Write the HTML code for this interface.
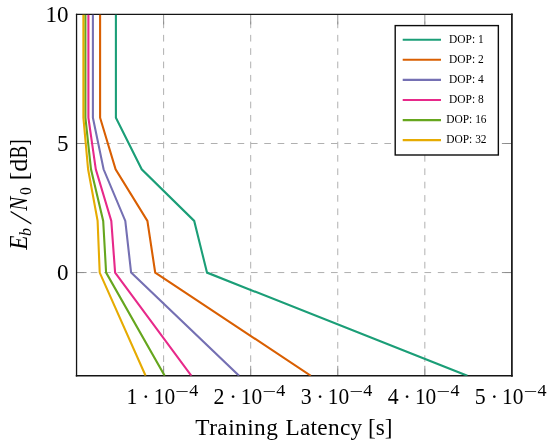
<!DOCTYPE html>
<html lang="en"><head><meta charset="utf-8"><title>Training Latency</title>
<style>html,body{margin:0;padding:0;background:#fff}svg{display:block}text{font-family:"Liberation Serif","DejaVu Serif",serif;fill:#000}.t{font-size:23px}.u{font-size:23.3px}.s{font-size:16.2px}.lg{font-size:13.0px}.i{font-style:italic}</style></head><body>
<svg width="550" height="448" viewBox="0 0 550 448">
<rect x="0" y="0" width="550" height="448" fill="#fff"/>
<g stroke="#b0b0b0" stroke-width="1.0" stroke-dasharray="6.675 6.675" fill="none">
<line x1="163.62" y1="375.8" x2="163.62" y2="14.45" stroke-dashoffset="-0.5"/>
<line x1="250.69" y1="375.8" x2="250.69" y2="14.45" stroke-dashoffset="-0.5"/>
<line x1="337.76" y1="375.8" x2="337.76" y2="14.45" stroke-dashoffset="-0.5"/>
<line x1="424.83" y1="375.8" x2="424.83" y2="14.45" stroke-dashoffset="-0.5"/>
<line x1="76.55" y1="143.50" x2="511.9" y2="143.50" stroke-dashoffset="-0.8"/>
<line x1="76.55" y1="272.56" x2="511.9" y2="272.56" stroke-dashoffset="-0.8"/>
</g>
<g stroke="#888888" stroke-width="0.9" fill="none">
<line x1="163.62" y1="375.8" x2="163.62" y2="365.8"/>
<line x1="163.62" y1="14.45" x2="163.62" y2="24.45"/>
<line x1="250.69" y1="375.8" x2="250.69" y2="365.8"/>
<line x1="250.69" y1="14.45" x2="250.69" y2="24.45"/>
<line x1="337.76" y1="375.8" x2="337.76" y2="365.8"/>
<line x1="337.76" y1="14.45" x2="337.76" y2="24.45"/>
<line x1="424.83" y1="375.8" x2="424.83" y2="365.8"/>
<line x1="424.83" y1="14.45" x2="424.83" y2="24.45"/>
<line x1="76.55" y1="143.50" x2="86.55" y2="143.50"/>
<line x1="511.9" y1="143.50" x2="501.9" y2="143.50"/>
<line x1="76.55" y1="272.56" x2="86.55" y2="272.56"/>
<line x1="511.9" y1="272.56" x2="501.9" y2="272.56"/>
</g>
<g stroke="#141414" stroke-linecap="square" fill="none">
<line x1="76.55" y1="14.45" x2="76.55" y2="375.8" stroke-width="1.3"/>
<line x1="76.55" y1="14.45" x2="511.9" y2="14.45" stroke-width="1.3"/>
<line x1="511.9" y1="14.45" x2="511.9" y2="375.8" stroke-width="1.7"/>
<line x1="76.55" y1="375.8" x2="511.9" y2="375.8" stroke-width="1.6"/>
</g>
<clipPath id="c"><rect x="76.55" y="14.45" width="435.35" height="361.35"/></clipPath>
<g fill="none" stroke-width="2.1" stroke-linejoin="miter" stroke-linecap="butt" clip-path="url(#c)">
<polyline stroke="#1b9e77" points="115.9,14.4 115.9,117.7 141.7,169.3 194.2,220.9 207.0,272.6 467.4,375.8"/>
<polyline stroke="#d95f02" points="100.1,14.4 100.1,117.7 115.6,169.3 147.4,220.9 155.2,272.6 310.9,375.8"/>
<polyline stroke="#7570b3" points="92.9,14.4 92.9,117.7 103.6,169.3 125.3,220.9 131.1,272.6 239.1,375.8"/>
<polyline stroke="#e7298a" points="88.4,14.4 88.4,117.7 95.8,169.3 111.3,220.9 115.1,272.6 191.4,375.8"/>
<polyline stroke="#66a61e" points="85.4,14.4 85.4,117.7 91.0,169.3 103.2,220.9 106.1,272.6 164.7,375.8"/>
<polyline stroke="#e6ab02" points="83.4,14.4 83.4,117.7 88.1,169.3 97.6,220.9 99.7,272.6 145.6,375.8"/>
</g>
<rect x="395.2" y="25.6" width="103.15000000000003" height="129.4" fill="#fff" stroke="#0c0c0c" stroke-width="1.4"/>
<line x1="402.7" y1="39.8" x2="441" y2="39.8" stroke="#1b9e77" stroke-width="2.1"/>
<text class="lg" transform="translate(466.4,42.75) scale(0.88,1)" x="0" y="0" text-anchor="middle">DOP: 1</text>
<line x1="402.7" y1="59.8" x2="441" y2="59.8" stroke="#d95f02" stroke-width="2.1"/>
<text class="lg" transform="translate(466.4,62.83) scale(0.88,1)" x="0" y="0" text-anchor="middle">DOP: 2</text>
<line x1="402.7" y1="79.9" x2="441" y2="79.9" stroke="#7570b3" stroke-width="2.1"/>
<text class="lg" transform="translate(466.4,82.91) scale(0.88,1)" x="0" y="0" text-anchor="middle">DOP: 4</text>
<line x1="402.7" y1="100.0" x2="441" y2="100.0" stroke="#e7298a" stroke-width="2.1"/>
<text class="lg" transform="translate(466.4,102.99) scale(0.88,1)" x="0" y="0" text-anchor="middle">DOP: 8</text>
<line x1="402.7" y1="120.1" x2="441" y2="120.1" stroke="#66a61e" stroke-width="2.1"/>
<text class="lg" transform="translate(466.4,123.07) scale(0.88,1)" x="0" y="0" text-anchor="middle">DOP: 16</text>
<line x1="402.7" y1="140.1" x2="441" y2="140.1" stroke="#e6ab02" stroke-width="2.1"/>
<text class="lg" transform="translate(466.4,143.15) scale(0.88,1)" x="0" y="0" text-anchor="middle">DOP: 32</text>
<text class="t" x="68.6" y="21.9" text-anchor="end">10</text>
<text class="t" x="68.6" y="151.0" text-anchor="end">5</text>
<text class="t" x="68.6" y="280.1" text-anchor="end">0</text>
<text class="t" y="404.3"><tspan x="126.52" textLength="10.9" lengthAdjust="spacingAndGlyphs">1</tspan><tspan x="136.37"> · </tspan><tspan x="153.72" textLength="21.4" lengthAdjust="spacingAndGlyphs">10</tspan><tspan class="s" x="175.12" y="397.10" textLength="13.7" lengthAdjust="spacingAndGlyphs">−</tspan><tspan class="s" x="189.22" y="396.00" textLength="9.05" lengthAdjust="spacingAndGlyphs">4</tspan></text>
<text class="t" y="404.3"><tspan x="213.59" textLength="10.9" lengthAdjust="spacingAndGlyphs">2</tspan><tspan x="223.44"> · </tspan><tspan x="240.79" textLength="21.4" lengthAdjust="spacingAndGlyphs">10</tspan><tspan class="s" x="262.19" y="397.10" textLength="13.7" lengthAdjust="spacingAndGlyphs">−</tspan><tspan class="s" x="276.29" y="396.00" textLength="9.05" lengthAdjust="spacingAndGlyphs">4</tspan></text>
<text class="t" y="404.3"><tspan x="300.66" textLength="10.9" lengthAdjust="spacingAndGlyphs">3</tspan><tspan x="310.51"> · </tspan><tspan x="327.86" textLength="21.4" lengthAdjust="spacingAndGlyphs">10</tspan><tspan class="s" x="349.26" y="397.10" textLength="13.7" lengthAdjust="spacingAndGlyphs">−</tspan><tspan class="s" x="363.36" y="396.00" textLength="9.05" lengthAdjust="spacingAndGlyphs">4</tspan></text>
<text class="t" y="404.3"><tspan x="387.73" textLength="10.9" lengthAdjust="spacingAndGlyphs">4</tspan><tspan x="397.58"> · </tspan><tspan x="414.93" textLength="21.4" lengthAdjust="spacingAndGlyphs">10</tspan><tspan class="s" x="436.33" y="397.10" textLength="13.7" lengthAdjust="spacingAndGlyphs">−</tspan><tspan class="s" x="450.43" y="396.00" textLength="9.05" lengthAdjust="spacingAndGlyphs">4</tspan></text>
<text class="t" y="404.3"><tspan x="474.80" textLength="10.9" lengthAdjust="spacingAndGlyphs">5</tspan><tspan x="484.65"> · </tspan><tspan x="502.00" textLength="21.4" lengthAdjust="spacingAndGlyphs">10</tspan><tspan class="s" x="523.40" y="397.10" textLength="13.7" lengthAdjust="spacingAndGlyphs">−</tspan><tspan class="s" x="537.50" y="396.00" textLength="9.05" lengthAdjust="spacingAndGlyphs">4</tspan></text>
<text class="u" y="435.3"><tspan x="195.3" textLength="82.5" lengthAdjust="spacing">Training</tspan> <tspan x="285.4" textLength="76.8" lengthAdjust="spacing">Latency</tspan> <tspan x="368" textLength="24.5" lengthAdjust="spacing">[s]</tspan></text>
<g transform="translate(26.8,249.4) rotate(-90)">
<text y="0" style="font-size:24.3px"><tspan class="i" x="-0.3" textLength="14.25" lengthAdjust="spacingAndGlyphs">E</tspan><tspan class="i" x="13.5" y="4.6" style="font-size:16.8px" textLength="7.98" lengthAdjust="spacingAndGlyphs">b</tspan></text>
<text transform="translate(25.0,4.6) scale(1.0,1) skewX(-14)" style="font-size:31px;" x="0" y="0">/</text>
<text y="0" style="font-size:24.3px"><tspan class="i" x="38.6" textLength="14.02" lengthAdjust="spacingAndGlyphs">N</tspan><tspan x="54.4" y="4.6" style="font-size:16.8px" textLength="7.81" lengthAdjust="spacingAndGlyphs">0</tspan><tspan y="0"> </tspan><tspan x="68.9" y="0" textLength="21.8" lengthAdjust="spacingAndGlyphs">[d</tspan><tspan x="91.0" y="0" textLength="19.0" lengthAdjust="spacingAndGlyphs">B]</tspan></text>
</g>
</svg></body></html>
